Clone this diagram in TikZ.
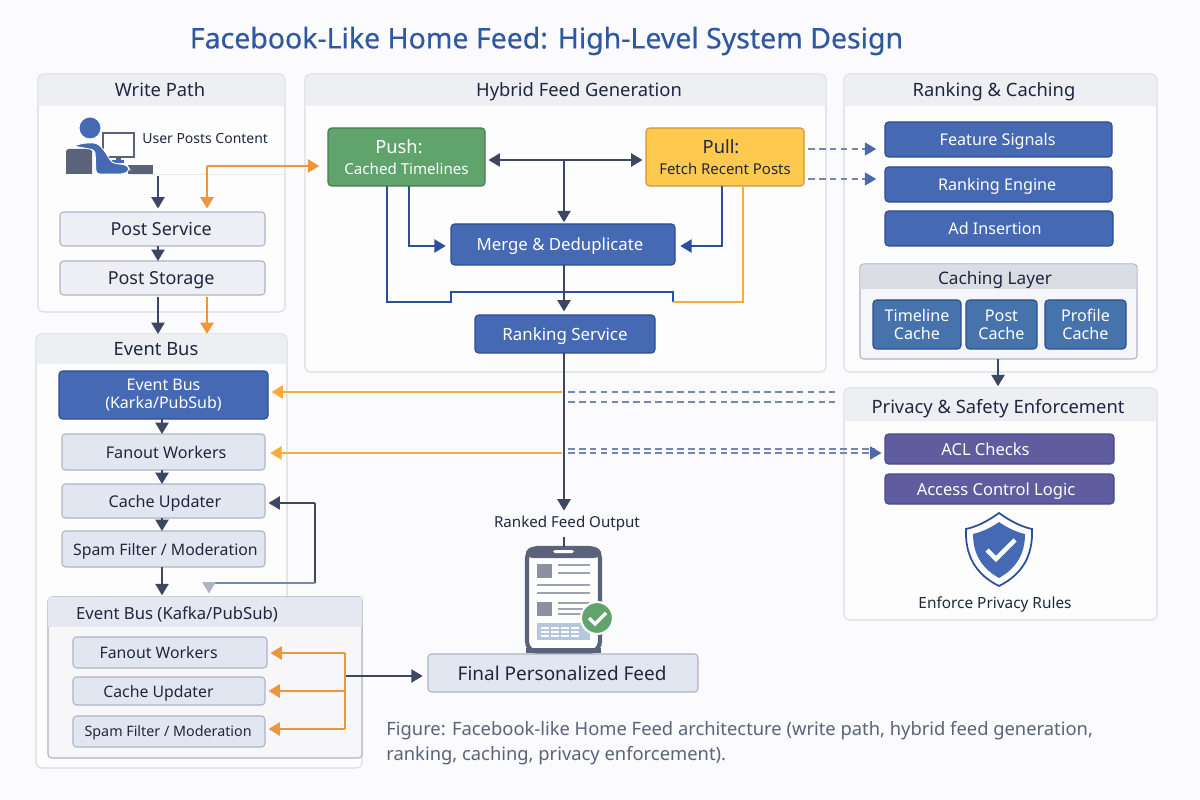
\documentclass[tikz,border=0pt]{standalone}
\usepackage{fontspec}
\setmainfont{Noto Sans}
\newfontfamily\titlefont[FakeBold=0.5]{Noto Sans}
\usetikzlibrary{arrows.meta}

\definecolor{pagebg}{HTML}{FBFBFD}
\definecolor{panelbg}{HTML}{FDFDFE}
\definecolor{panelln}{HTML}{D9DBE1}
\definecolor{headbg}{HTML}{EEEFF3}
\definecolor{ink}{HTML}{1E2740}
\definecolor{slate}{HTML}{3D4763}
\definecolor{titleblue}{HTML}{2F58A2}
\definecolor{blueb}{HTML}{4569B2}
\definecolor{bluebd}{HTML}{2C4C92}
\definecolor{steelb}{HTML}{4673AC}
\definecolor{violetb}{HTML}{5F5C9F}
\definecolor{greyb}{HTML}{EEEFF4}
\definecolor{greybl}{HTML}{E2E6F0}
\definecolor{greyln}{HTML}{AEB4C4}
\definecolor{greenb}{HTML}{61A36C}
\definecolor{yellowb}{HTML}{FDC94F}
\definecolor{orangea}{HTML}{F0953A}
\definecolor{ambera}{HTML}{FAAB3A}
\definecolor{dashln}{HTML}{7387B2}
\definecolor{routeb}{HTML}{2B4F9C}

\tikzset{
  panelbox/.style={draw=panelln,fill=panelbg,line width=0.6pt,rounded corners=3pt,inner sep=0pt,outer sep=0pt},
  flatbox/.style={draw=greyln,line width=0.6pt,rounded corners=2pt,inner sep=0pt,outer sep=0pt,text=ink,align=center},
  lightbox/.style={flatbox,fill=greyb,text depth=0pt,font=\fontsize{10.2}{12}\selectfont},
  busbox/.style={flatbox,fill=greybl,text depth=0pt,font=\fontsize{9.2}{11}\selectfont},
  lowbox/.style={flatbox,fill=greybl,text depth=0pt,font=\fontsize{9}{11}\selectfont},
  bluebox/.style={flatbox,draw=bluebd,fill=blueb,text=white,font=\fontsize{9.2}{9.8}\selectfont},
  onebox/.style={bluebox,text depth=0pt},
  cachebox/.style={flatbox,draw=bluebd,fill=steelb,text=white,font=\fontsize{9.2}{10.2}\selectfont},
  violetbox/.style={flatbox,draw=violetb!80!black,fill=violetb,text=white,text depth=0pt,font=\fontsize{9.4}{12}\selectfont},
  paneltitle/.style={text=ink,inner sep=0pt,text depth=0pt,font=\fontsize{10.45}{12}\selectfont},
  plainlabel/.style={text=ink,inner sep=0pt,text depth=0pt,font=\fontsize{8.6}{10}\selectfont},
  tip/.style={-{Triangle[length=6.5pt,width=7.5pt]}},
  flow/.style={tip,draw=slate,line width=1.15pt},
  routeflow/.style={tip,draw=routeb,line width=1.15pt},
  orangeflow/.style={tip,draw=orangea,line width=1.4pt},
  amberflow/.style={tip,draw=ambera,line width=1.4pt},
  dashline/.style={draw=dashln,line width=0.7pt,dash pattern=on 3.8pt off 2.4pt},
  dashflow/.style={dashline,-{Triangle[length=6.5pt,width=7.5pt,color=routeb!85]}},
}

% box from its corners, in pixels of the 1200x800 sheet
\newcommand{\rbox}[7][lightbox]{%
  \node[#1,minimum width={(#5-#3)*0.02cm},minimum height={(#6-#4)*0.02cm}] (#2) at ({(#3+#5)/2},{(#4+#6)/2}) {#7};}
% panel with a grey heading band
\newcommand{\rpanel}[6]{%
  \rbox[panelbox]{#1}{#2}{#3}{#4}{#5}{}
  \fill[headbg] (#2+0.3,#6) [rounded corners=3pt] -- (#2+0.3,#3+0.3) -- (#4-0.3,#3+0.3) [sharp corners] -- (#4-0.3,#6) -- cycle;}

\begin{document}
\begin{tikzpicture}[x=0.02cm,y=-0.02cm]
  \useasboundingbox (0,0) rectangle (1200,800);
  \fill[pagebg] (0,0) rectangle (1200,800);

  % title
  \node[text=titleblue,inner sep=0pt,font=\titlefont\fontsize{16.2}{18}\selectfont] (maintitle) at (546.5,41) {Facebook-Like Home Feed: High-Level System Design};

  % write path
  \rpanel{writepanel}{38}{74}{285}{312}{106}
  \node[paneltitle] (writetitle) at (160,90) {Write Path};
  \draw[panelln!60] (130,174) -- (285,174);
  \fill[slate!85] (66,174) -- (66,152) [rounded corners=1.5pt] -- (66,149) -- (92,149) [sharp corners] -- (92,174) -- cycle;
  \fill[slate!85] (128,165) rectangle (153,174);
  \draw[slate!85,fill=white,line width=1pt] (103,133) rectangle (134,157);
  \fill[slate!85] (116,157) rectangle (121,161);
  \fill[blueb] (112,160) rectangle (124,163);
  \draw[white,fill=blueb,line width=0.5pt] (90,128) circle[radius=11];
  \draw[white,fill=blueb,line width=0.5pt,rounded corners=2pt] (73,146) -- (84,143) -- (97,143) -- (104,150) -- (112,163) -- (127,165) -- (130,170) -- (124,174) -- (96,174) -- (95,150) -- cycle;
  \node[plainlabel,anchor=west,font=\fontsize{7.95}{10}\selectfont] (userposts) at (142,138) {User Posts Content};
  \rbox{postservice}{60}{212}{265}{246}{Post Service\kern1.5pt}
  \rbox{poststorage}{60}{261}{265}{295}{Post Storage\kern1.5pt}
  \coordinate (xwrite) at (158,0);
  \coordinate (xorange) at (207,0);
  \coordinate (userout) at (158,176);
  \coordinate (orangecorner) at (207,166);

  % event bus, the panel steps out around the lower block
  \draw[panelln,fill=panelbg,line width=0.6pt,rounded corners=3pt] (36,334) -- (287,334) -- (287,597) [sharp corners] -- (287,597) -- (362,597) [rounded corners=3pt] -- (362,768) -- (36,768) -- cycle;
  \fill[headbg] (36.3,364) [rounded corners=3pt] -- (36.3,334.3) -- (286.7,334.3) [sharp corners] -- (286.7,364) -- cycle;
  \node[paneltitle] (bustitle) at (156,349) {Event Bus};
  \rbox[bluebox,font=\fontsize{9.1}{9.8}\selectfont]{eventbus}{59}{371}{268}{419}{Event Bus\\(Karka/PubSub)}
  \rbox[busbox]{fanout}{62}{434}{265}{470}{\kern3pt Fanout Workers}
  \rbox[busbox]{cacheupd}{62}{484}{265}{518}{\kern1.6pt Cache Updater}
  \rbox[busbox,font=\fontsize{9}{11}\selectfont]{spam}{62}{531}{265}{567}{\kern2.2pt Spam Filter / Moderation}
  \coordinate (xbus) at (162,0);

  % lower event bus block
  \rbox[flatbox,fill=panelbg!60!greyb]{lowerpanel}{48}{597}{362}{758}{}
  \fill[greybl!75!greyb] (48.4,627) -- (48.4,597.4) -- (361.6,597.4) -- (361.6,627) -- cycle;
  \node[paneltitle,font=\fontsize{9.5}{11}\selectfont] (lowertitle) at (177,613) {Event Bus (Kafka/PubSub)};
  \rbox[lowbox]{lowfanout}{73}{637}{267}{668}{Fanout Workers\kern13pt}
  \rbox[lowbox]{lowcache}{73}{677}{265}{705}{Cache Updater\kern12pt}
  \rbox[lowbox,font=\fontsize{8.15}{11}\selectfont]{lowspam}{73}{716}{265}{747}{Spam Filter / Moderation\kern1pt}

  % hybrid feed generation
  \rpanel{hybridpanel}{305}{74}{826}{372}{106}
  \node[paneltitle] (hybridtitle) at (579,90) {Hybrid Feed Generation};
  \rbox[flatbox,draw=greenb!75!black,fill=greenb,text=white]{push}{328}{128}{485}{186}{{\fontsize{10.4}{13}\selectfont Push:\kern8.5pt}\\{\fontsize{8.6}{12}\selectfont Cached Timelines}}
  \rbox[flatbox,draw=ambera!85!black,fill=yellowb]{pull}{646}{128}{804}{186}{{\fontsize{10.4}{13}\selectfont Pull:\kern4.5pt}\\{\fontsize{8.5}{12}\selectfont Fetch Recent Posts}}
  \rbox[onebox,font=\fontsize{9.55}{12}\selectfont]{merge}{451}{224}{675}{265}{Merge \& Deduplicate\kern3.4pt}
  \rbox[onebox,font=\fontsize{9.6}{12}\selectfont]{rankserv}{475}{315}{655}{353}{Ranking Service}
  \coordinate (xmid) at (564,0);
  \coordinate (splitmid) at (564,160);
  \coordinate (pushdrop) at (409,0);
  \coordinate (pulldrop) at (722,0);
  \coordinate (mergein) at (0,246);

  % ranking and caching
  \rpanel{rankpanel}{844}{74}{1157}{372}{106}
  \node[paneltitle] (ranktitle) at (994,90) {Ranking \& Caching};
  \rbox[onebox]{signals}{885}{122}{1112}{157}{Feature Signals\kern1pt}
  \rbox[onebox]{engine}{885}{167}{1112}{202}{Ranking Engine\kern1.5pt}
  \rbox[onebox]{adins}{885}{211}{1113}{246}{Ad Insertion\kern4.5pt}
  \rbox[flatbox,fill=panelbg!50!greyb]{cachepanel}{860}{264}{1137}{359}{}
  \fill[greyb!70!greyln] (860.4,289) [rounded corners=2pt] -- (860.4,264.4) -- (1136.6,264.4) [sharp corners] -- (1136.6,289) -- cycle;
  \node[paneltitle,font=\fontsize{9.8}{12}\selectfont] (cachetitle) at (995,278) {Caching Layer};
  \rbox[cachebox]{timecache}{873}{300}{961}{349}{Timeline\\Cache}
  \rbox[cachebox]{postcache}{966}{300}{1037}{349}{Post\\Cache}
  \rbox[cachebox]{profcache}{1045}{300}{1126}{349}{Profile\\Cache}
  \coordinate (xrank) at (998,0);

  % privacy and safety
  \rpanel{privpanel}{844}{388}{1157}{620}{421}
  \node[paneltitle] (privtitle) at (998,406) {Privacy \& Safety Enforcement};
  \rbox[violetbox]{acl}{885}{434}{1114}{464}{ACL Checks\kern16pt}
  \rbox[violetbox]{access}{885}{474}{1114}{504}{Access Control Logic\kern4pt}
  % shield
  \draw[routeb,fill=white,line width=1pt] (999,513) .. controls (985,523) and (975,527) .. (966,529) .. controls (965,555) and (975,574) .. (999,586) .. controls (1023,574) and (1033,555) .. (1032,529) .. controls (1023,527) and (1013,523) .. (999,513) -- cycle;
  \fill[blueb] (999,522) .. controls (989,529) and (981,532) .. (973,534) .. controls (973,553) and (981,568) .. (999,578) .. controls (1017,568) and (1025,553) .. (1025,534) .. controls (1017,532) and (1009,529) .. (999,522) -- cycle;
  \draw[white,line width=2.6pt] (987,550) -- (996,559) -- (1015,540);
  \node[plainlabel,font=\fontsize{8.75}{10}\selectfont] (enforce) at (995,603) {Enforce Privacy Rules};

  % output phone
  \node[plainlabel] (rankedout) at (567,522) {Ranked Feed Output};
  \draw[slate!85,fill=white,line width=2.4pt,rounded corners=6pt] (527,548) rectangle (600,652);
  \fill[slate!85,rounded corners=4pt] (526,547) -- (601,547) -- (601,558) -- (526,558) -- cycle;
  \fill[slate!85] (526,648) rectangle (601,653);
  \fill[white,rounded corners=1pt] (553,550) rectangle (574,553);
  \fill[slate!60] (537,564) rectangle (552,578);
  \fill[slate!60] (537,602) rectangle (552,616);
  \foreach \ya/\xb in {565/590,573/590,603/590,609/588,614/588} {
    \fill[slate!50] (558,\ya-1) rectangle (\xb,\ya+1);
  }
  \foreach \ya in {585,593} {
    \fill[slate!50] (537,\ya-1) rectangle (590,\ya+1);
  }
  \fill[steelb!40] (537,623) rectangle (590,640);
  \foreach \yb in {628,632,636} {
    \foreach \xb in {541,551,561,571} {
      \fill[white] (\xb,\yb-1) rectangle (\xb+8,\yb+0.5);
    }
  }
  \draw[white,fill=greenb,line width=1.2pt] (597,618) circle[radius=16];
  \draw[white,line width=2pt] (589,618) -- (595,624) -- (606,613);
  \rbox[lightbox,fill=greybl,font=\fontsize{10.8}{13}\selectfont]{finalfeed}{428}{654}{698}{692}{Final Personalized Feed\kern1pt}

  % caption
  \node[anchor=west,align=left,inner sep=0pt,text=slate!85,font=\fontsize{10.45}{14.2}\selectfont] (caption) at (386,743) {Figure: Facebook-like Home Feed architecture (write path, hybrid feed generation,\\ranking, caching, privacy enforcement).};

  % write path connectors
  \draw[flow,shorten >=2pt] (userout) -- (postservice.north -| userout);
  \draw[flow] (postservice.south -| xwrite) -- (poststorage.north -| xwrite);
  \draw[flow,shorten <=1pt] (poststorage.south -| xwrite) -- ++(0,39);
  \draw[orangeflow,shorten <=1pt] (poststorage.south -| xorange) -- ++(0,39);
  \draw[orangeflow,shorten >=2pt] (orangecorner) -- (postservice.north -| xorange);
  \draw[orangeflow,shorten >=5pt] (orangecorner) -- (push.west |- orangecorner);

  % event bus connectors
  \draw[flow] (eventbus.south -| xbus) -- (fanout.north -| xbus);
  \draw[flow] (fanout.south -| xbus) -- (cacheupd.north -| xbus);
  \draw[flow] (cacheupd.south -| xbus) -- (spam.north -| xbus);
  \draw[flow,shorten >=1pt] (spam.south -| xbus) -- (lowerpanel.north -| xbus);
  \coordinate (loopa) at (315,503);
  \coordinate (loopb) at (315,583);
  \coordinate (loopc) at (209,583);
  \draw[flow,shorten >=2pt] (loopa) -- (cacheupd.east |- loopa);
  \draw[slate,line width=1.15pt] (loopa) -- (loopb);
  \draw[dashln,line width=1.15pt] (loopb) -- (loopc);
  \draw[tip,draw=greyln,line width=1pt,shorten >=2pt] (loopc) -- (lowerpanel.north -| loopc);

  % lower block connectors
  \coordinate (fanorange) at (345,653);
  \coordinate (cacheorange) at (345,691);
  \coordinate (spamorange) at (345,729);
  \draw[orangea,line width=1.4pt] (fanorange) -- (spamorange);
  \draw[orangeflow,shorten >=2pt] (fanorange) -- (lowfanout.east |- fanorange);
  \draw[orangeflow,shorten >=2pt] (cacheorange) -- (lowcache.east |- cacheorange);
  \draw[orangeflow,shorten >=2pt] (spamorange) -- (lowspam.east |- spamorange);
  \coordinate (lowout) at (346,676);
  \draw[flow,shorten >=3pt] (lowout) -- (finalfeed.west |- lowout);

  % hybrid connectors
  \draw[flow,{Triangle[length=6.5pt,width=7.5pt]}-{Triangle[length=6.5pt,width=7.5pt]},shorten <=2pt,shorten >=2pt] (push.east |- splitmid) -- (pull.west |- splitmid);
  \draw[flow,shorten >=1pt] (splitmid) -- (merge.north -| splitmid);
  \draw[routeflow,shorten >=3pt] (push.south -| pushdrop) |- (merge.west |- mergein);
  \draw[routeflow,shorten >=3pt] (pull.south -| pulldrop) |- (merge.east |- mergein);
  \coordinate (routea) at (387,302);
  \coordinate (routeb1) at (451,302);
  \coordinate (routeb2) at (451,292);
  \coordinate (routec1) at (673,292);
  \coordinate (routec2) at (673,302);
  \coordinate (routed) at (743,302);
  \draw[routeb,line width=1.15pt] (push.south -| routea) -- (routea) -- (routeb1) -- (routeb2) -- (routec1) -- (routec2);
  \draw[ambera,line width=1.4pt] (routec2) -- (routed) -- (pull.south -| routed);
  \draw[flow,shorten >=2pt] (merge.south -| xmid) -- (rankserv.north -| xmid);

  % ranking and privacy connectors
  \coordinate (sigout) at (808,149);
  \coordinate (engout) at (808,179);
  \draw[dashflow,shorten >=5pt] (sigout) -- (signals.west |- sigout);
  \draw[dashflow,shorten >=5pt] (engout) -- (engine.west |- engout);
  \draw[flow,shorten >=1pt] (cachepanel.south -| xrank) -- (privpanel.north -| xrank);

  % ranked output and the long feedback lines
  \draw[flow,shorten >=3pt] (rankserv.south -| xmid) -- (rankedout.north -| xmid);
  \coordinate (phonestub) at (564,537);
  \draw[slate,line width=1.15pt] (phonestub) -- (564,547);
  \coordinate (busline) at (562,392);
  \coordinate (fanline) at (562,453);
  \draw[amberflow,shorten >=2pt] (busline) -- (eventbus.east |- busline);
  \draw[amberflow,shorten >=3pt] (fanline) -- (fanout.east |- fanline);
  \coordinate (dasha) at (568,392);
  \coordinate (dashb) at (568,402);
  \coordinate (dashc) at (568,449);
  \coordinate (dashd) at (568,453);
  \draw[dashline] (dasha) -- (835,392);
  \draw[dashline] (dashb) -- (835,402);
  \draw[dashline] (dashc) -- (875,449);
  \draw[dashflow,shorten >=2pt] (dashd) -- (acl.west |- dashd);
\end{tikzpicture}
\end{document}
